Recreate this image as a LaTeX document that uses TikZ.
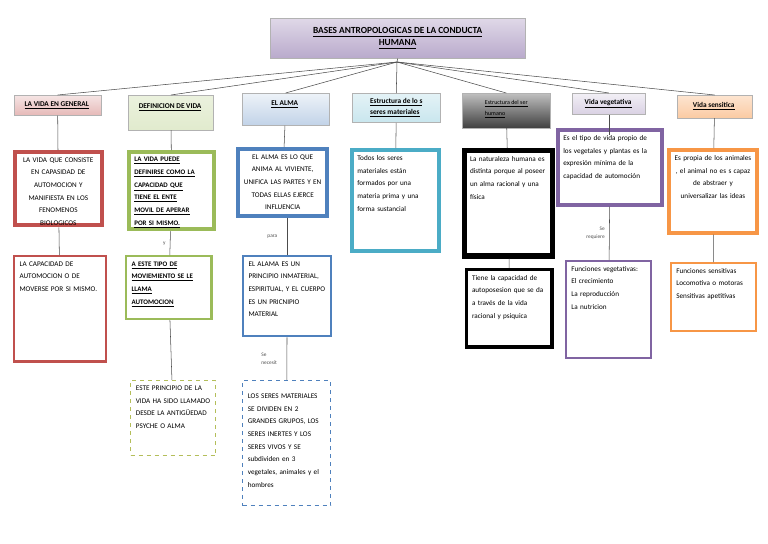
\documentclass[tikz,border=0pt]{standalone}
\usepackage{fontspec}
\setmainfont{Carlito}
\usetikzlibrary{positioning}
\newcommand\uln[1]{\underline{#1}}
\newcommand\bt[2]{\parbox[c][#1][t]{\linewidth}{\hyphenpenalty=10000\raggedright #2}}
\newcommand\btc[2]{\parbox[c][#1][t]{\linewidth}{\hyphenpenalty=10000\centering #2}}
\definecolor{redb}{RGB}{192,80,77}
\definecolor{greenb}{RGB}{155,187,89}
\definecolor{blueb}{RGB}{79,129,189}
\definecolor{tealb}{RGB}{75,172,198}
\definecolor{purpb}{RGB}{128,100,162}
\definecolor{orangeb}{RGB}{247,150,70}
\definecolor{dashg}{RGB}{180,190,90}
\begin{document}
\begin{tikzpicture}[x=0.75pt, y=-0.75pt, font=\fontsize{5.4}{9.5}\selectfont,
    head/.style={draw=gray!60, rectangle, anchor=north west, inner sep=2pt, align=center, font=\fontsize{5.5}{8}\selectfont\bfseries},
    box/.style={rectangle, anchor=north west, inner xsep=4pt, inner ysep=4pt},
    link/.style={draw=black!70, thin},
    tag/.style={font=\fontsize{4}{6}\selectfont, text=black!70}]

    \path[use as bounding box] (0,0) rectangle (768,543);

    \node[head, minimum width=191pt, minimum height=30pt, top color=purpb!25, bottom color=purpb!55, font=\fontsize{7}{9}\selectfont\bfseries] (title) at (270,18)
    { \uln{BASES ANTROPOLOGICAS DE LA CONDUCTA}\\ \uln{HUMANA} };

    % ---------------------------------------------------------
    \node[head, minimum width=65pt, minimum height=15pt, top color=redb!15, bottom color=redb!40] (h1) at (14,95)
    { \uln{LA VIDA EN GENERAL} };
    \node[head, minimum width=64pt, minimum height=26pt, top color=greenb!20, bottom color=greenb!30, text depth=10pt] (h2) at (128,95)
    { \uln{DEFINICION DE VIDA} };
    \node[head, minimum width=65pt, minimum height=24pt, top color=blueb!10, bottom color=blueb!35, text depth=9pt] (h3) at (242,93)
    { \uln{EL ALMA} };
    \node[head, minimum width=66pt, minimum height=22pt, top color=tealb!15, bottom color=tealb!30, align=left] (h4) at (352,93)
    { \uln{Estructura de lo s}\\ \uln{seres materiales} };
    \node[head, minimum width=66pt, minimum height=26pt, top color=black!25, bottom color=black!75, align=left, font=\fontsize{4.5}{8}\selectfont, text depth=4pt] (h5) at (462,93)
    { \uln{Estructura del ser}\\ \uln{humano} };
    \node[head, minimum width=55pt, minimum height=16pt, top color=purpb!10, bottom color=purpb!30] (h6) at (572,93)
    { \uln{Vida vegetativa} };
    \node[head, minimum width=56pt, minimum height=17pt, top color=orangeb!25, bottom color=orangeb!50] (h7) at (677,95)
    { \uln{Vida sensitica} };

    % ---------------------------------------------------------
    \node[box, draw=redb, line width=3pt, text width=57pt] (b1) at (13,150)
    { \btc{47pt}{LA VIDA QUE CONSISTE EN CAPASIDAD DE AUTOMOCION Y MANIFIESTA EN LOS FENOMENOS BIOLOGICOS} };
    \node[box, draw=greenb, line width=3pt, text width=56pt, font=\fontsize{5.2}{9.5}\selectfont\bfseries] (b2) at (127,150)
    { \bt{50pt}{\uln{LA VIDA PUEDE}\\ \uln{DEFINIRSE COMO LA}\\ \uln{CAPACIDAD QUE}\\ \uln{TIENE EL ENTE}\\ \uln{MOVIL DE APERAR}\\ \uln{POR SI MISMO.}} };
    \node[box, draw=blueb, line width=3pt, text width=59pt] (b3) at (236,147)
    { \btc{42pt}{EL ALMA ES LO QUE ANIMA AL VIVIENTE, UNIFICA LAS PARTES Y EN TODAS ELLAS EJERCE INFLUENCIA} };
    \node[box, draw=tealb, line width=3pt, text width=57pt] (b4) at (350,148)
    { \bt{68pt}{Todos los seres materiales están formados por una materia prima y una forma sustancial} };
    \node[box, draw=black, line width=4pt, text width=58pt] (b5) at (462,148)
    { \bt{71pt}{La naturaleza humana es distinta porque al poseer un alma racional y una física} };
    \node[box, draw=purpb, line width=3pt, text width=70pt] (b6) at (556,128)
    { \bt{48pt}{Es el tipo de vida propio de los vegetales y plantas es la expresión mínima de la capacidad de automoción} };
    \node[box, draw=orangeb, line width=3pt, text width=58pt] (b7) at (667,148)
    { \btc{54pt}{Es propia de los animales , el animal no es s capaz de abstraer y universalizar las ideas} };

    % ---------------------------------------------------------
    \node[box, draw=redb, line width=1.8pt, text width=61pt] (c1) at (13,255)
    { \bt{71pt}{LA CAPACIDAD DE AUTOMOCION O DE MOVERSE POR SI MISMO.} };
    \node[box, draw=greenb, line width=1.8pt, text width=56pt, font=\fontsize{5.2}{9.5}\selectfont\bfseries] (c2) at (125,255)
    { \bt{39pt}{\uln{A ESTE TIPO DE}\\ \uln{MOVIEMIENTO SE LE}\\ \uln{LLAMA}\\ \uln{AUTOMOCION}} };
    \node[box, draw=blueb, line width=1.8pt, text width=58pt] (c3) at (242,255)
    { \bt{52pt}{EL ALAMA ES UN PRINCIPIO INMATERIAL, ESPIRITUAL, Y EL CUERPO ES UN PRICNIPIO MATERIAL} };
    \node[box, draw=black, line width=2.5pt, text width=56pt] (c5) at (465,268)
    { \bt{50pt}{Tiene la capacidad de autoposesion que se da a través de la vida racional y psiquica} };
    \node[box, draw=purpb, line width=1.5pt, text width=56pt] (c6) at (565,260)
    { \bt{65pt}{Funciones vegetativas:\\ El crecimiento\\ La reproducción\\ La nutricion} };
    \node[box, draw=orangeb, line width=1.5pt, text width=56pt] (c7) at (670,262)
    { \bt{43pt}{Funciones sensitivas\\ Locomotiva o motoras\\ Sensitivas apetitivas} };

    % ---------------------------------------------------------
    \node[box, draw=dashg, dashed, thick, text width=56pt] (d2) at (130,380)
    { \bt{48pt}{ESTE PRINCIPIO DE LA VIDA HA SIDO LLAMADO DESDE LA ANTIGÜEDAD PSYCHE O ALMA} };
    \node[box, draw=blueb, dashed, thick, text width=58pt] (d3) at (242,380)
    { \bt{86pt}{\vspace{6pt}LOS SERES MATERIALES SE DIVIDEN EN 2 GRANDES GRUPOS, LOS SERES INERTES Y LOS SERES VIVOS Y SE subdividen en 3 vegetales, animales y el hombres} };

    % ---------------------------------------------------------
    \coordinate (hub) at (397,62);
    \foreach \h in {h1,h2,h3,h4,h5,h6,h7}
        \draw[link] (hub) -- (\h.north);
    \draw[link] (title.south) -- (hub);

    \draw[link] (h1) -- (b1);
    \draw[link] (h2) -- (b2);
    \draw[link] (h3) -- (b3);
    \draw[link] (h4) -- (b4);
    \draw[link] (h5) -- (b5);
    \draw[link] (h6.south) -- ([yshift=-15pt]h6.south);
    \draw[link] (h7) -- (b7);

    \draw[link] (b1) -- (c1);
    \draw[link] (b2) -- node[tag, left] {y} (c2);
    \draw[link] (b3.south -| c3.north) -- node[tag, left=4pt] {para} (c3);
    \draw[link] (b5) -- (c5);
    \draw[link] (b6) -- node[tag, left, align=right] {Se\\requiere} (c6);
    \draw[link] (b7) -- (c7);

    \draw[link] (c2) -- (d2);
    \draw[link] (c3) -- node[tag, left=4pt, align=left] {Se\\necesit} (d3);
\end{tikzpicture}
\end{document}
